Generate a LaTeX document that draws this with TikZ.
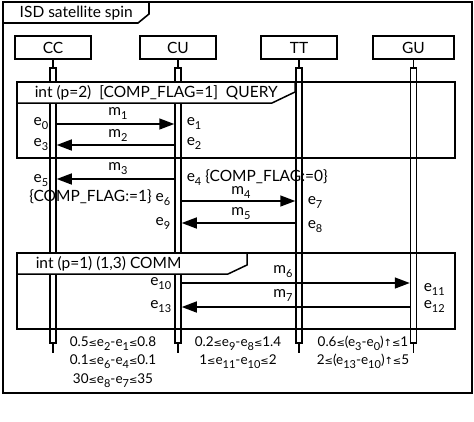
\documentclass[tikz,border=0pt]{standalone}
\usepackage{fontspec}
\setmainfont{Lato}
\newfontfamily\symf{DejaVu Sans}
\usetikzlibrary{arrows.meta}
\newcommand\lowidx[1]{\raisebox{-0.3em}{\fontsize{11}{11}\selectfont #1}}
\newcommand\ev[1]{e\lowidx{#1}}
\newcommand\mv[1]{m\lowidx{#1}}
\newcommand\lesym{{\symf\fontsize{10}{10}\selectfont ≤}}
\newcommand\upsym{{\symf\fontsize{10}{10}\selectfont ↑}}
\begin{document}
\begin{tikzpicture}[x=1pt,y=-1pt,
  font=\fontsize{15.5}{17}\selectfont,
  line width=1.5pt,
  headbox/.style={draw,rectangle,minimum height=23pt,inner sep=0pt},
  bar/.style={draw,rectangle,fill=white,minimum width=6pt,minimum height=275pt,inner sep=0pt},
  frag/.style={line width=1.5pt},
  tab/.style={line width=1.5pt,fill=white},
  msg/.style={line width=1.5pt,-{Triangle[length=15pt,width=11pt]}},
  lbl/.style={inner sep=0pt},
  cons/.style={inner sep=0pt,font=\fontsize{13.5}{15}\selectfont},
  stem/.style={line width=1.2pt}]
\useasboundingbox (0,0) rectangle (474,421);
% frame
\draw[line width=2.5pt] (3,2) rectangle (472,393);
\draw[line width=1.6pt] (3,23) -- (138,23) -- (149,14) -- (149,2);
\node[lbl,anchor=west] (title) at (19,13) {ISD satellite spin};
% heads
\node[headbox,minimum width=76pt] (cc) at (53,47.5) {CC};
\node[headbox,minimum width=76pt] (cu) at (178,47.5) {CU};
\node[headbox,minimum width=76pt] (tt) at (299,47.5) {TT};
\node[headbox,minimum width=81pt] (gu) at (413.5,47.5) {GU};
% bars
\node[bar] (ccb) at (53,205.5) {};
\node[bar] (cub) at (178,205.5) {};
\node[bar] (ttb) at (299,205.5) {};
\node[bar] (gub) at (413.5,205.5) {};
\foreach \h/\b in {cc/ccb,cu/cub,tt/ttb,gu/gub}{
  \draw[stem] (\h.south) -- (\b.north);
  \coordinate (\b end) at ([yshift=-9pt]\b.south);
  \draw[stem] (\b.south) -- (\b end);
}
% fragment 1
\draw[frag] (17,82) rectangle (455,158);
\draw[tab] (17,82) -- (295,82) -- (295,92) -- (272,103) -- (17,103) -- cycle;
\node[lbl,anchor=west] (f1) at (34,92.5) {int (p=2)\ \ [COMP\_FLAG=1]\ \ QUERY};
% fragment 2
\draw[frag] (17,253) rectangle (455,329);
\draw[tab] (17,253) -- (247,253) -- (247,265) -- (228,274) -- (17,274) -- cycle;
\node[lbl,anchor=west] (f2) at (35,263.5) {int (p=1) (1,3) COMM};
% messages
\draw[msg] (ccb.east |- 0,124) -- (cub.west |- 0,124);
\draw[msg] (cub.west |- 0,145) -- (ccb.east |- 0,145);
\draw[msg] (cub.west |- 0,179) -- (ccb.east |- 0,179);
\draw[msg] (cub.east |- 0,201) -- (ttb.west |- 0,201);
\draw[msg] (ttb.west |- 0,223) -- (cub.east |- 0,223);
\draw[msg] (cub.east |- 0,283) -- (gub.west |- 0,283);
\draw[msg] (gub.west |- 0,307) -- (cub.east |- 0,307);
% message labels
\node[lbl,anchor=base] (m1) at (118,115) {\mv{1}};
\node[lbl,anchor=base] (m2) at (118,137) {\mv{2}};
\node[lbl,anchor=base] (m3) at (118,170) {\mv{3}};
\node[lbl,anchor=base] (m4) at (241,194) {\mv{4}};
\node[lbl,anchor=base] (m5) at (241,215) {\mv{5}};
\node[lbl,anchor=base] (m6) at (283,273) {\mv{6}};
\node[lbl,anchor=base] (m7) at (283,297) {\mv{7}};
% event labels
\node[lbl,anchor=base east] (e0) at (49,125) {\ev{0}};
\node[lbl,anchor=base west] (e1) at (186,125) {\ev{1}};
\node[lbl,anchor=base east] (e3) at (49,146) {\ev{3}};
\node[lbl,anchor=base west] (e2) at (186,145) {\ev{2}};
\node[lbl,anchor=base east] (e5) at (49,182) {\ev{5}};
\node[lbl,anchor=base west] (e4) at (186,181) {\ev{4} \{COMP\_FLAG:=0\}};
\node[lbl,anchor=base east] (e6) at (171,201) {\{COMP\_FLAG:=1\} \ev{6}};
\node[lbl,anchor=base east] (e9) at (171,225) {\ev{9}};
\node[lbl,anchor=base west] (e7) at (307,204) {\ev{7}};
\node[lbl,anchor=base west] (e8) at (307,228) {\ev{8}};
\node[lbl,anchor=base east] (e10) at (172,285) {\ev{10}};
\node[lbl,anchor=base east] (e13) at (172,308) {\ev{13}};
\node[lbl,anchor=base west] (e11) at (423,291) {\ev{11}};
\node[lbl,anchor=base west] (e12) at (423,308) {\ev{12}};
% constraints
\node[cons,anchor=base] (c1a) at (113,346) {0.5\lesym\ev{2}-\ev{1}\lesym0.8};
\node[cons,anchor=base] (c1b) at (113,364.5) {0.1\lesym\ev{6}-\ev{4}\lesym0.1};
\node[cons,anchor=base] (c1c) at (113,383) {30\lesym\ev{8}-\ev{7}\lesym35};
\node[cons,anchor=base] (c2a) at (238,346) {0.2\lesym\ev{9}-\ev{8}\lesym1.4};
\node[cons,anchor=base] (c2b) at (238,364.5) {1\lesym\ev{11}-\ev{10}\lesym2};
\node[cons,anchor=base] (c3a) at (363,346) {0.6\lesym(\ev{3}-\ev{0})\upsym\lesym1};
\node[cons,anchor=base] (c3b) at (363,364.5) {2\lesym(\ev{13}-\ev{10})\upsym\lesym5};
\end{tikzpicture}
\end{document}
